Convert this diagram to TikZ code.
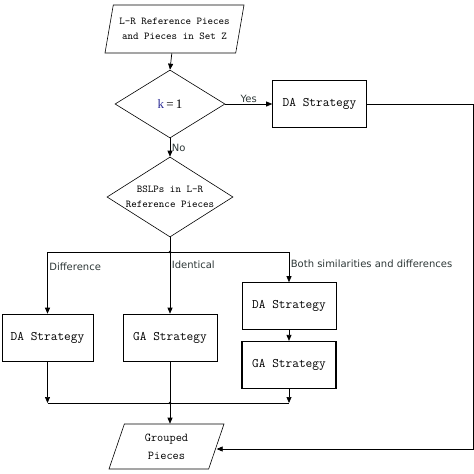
\documentclass[tikz,border=0pt]{standalone}
\usepackage{fontspec}
\newfontfamily\lblfont{DejaVu Sans}
\newfontfamily\kfont{Liberation Serif}
\usetikzlibrary{shapes.geometric,arrows.meta}
\definecolor{kblue}{RGB}{45,45,150}
\definecolor{lblgray}{RGB}{45,55,55}
\begin{document}
\begin{tikzpicture}[x=1pt, y=-1pt,
  line width=0.7pt,
  flow/.style={-{Triangle[length=6pt,width=5pt]}},
  box/.style={draw, line width=0.6pt, minimum width=94pt, minimum height=47pt,
    inner sep=0pt, font=\fontsize{13}{15}\selectfont\ttfamily},
  io/.style={draw, line width=0.6pt, trapezium, trapezium stretches body,
    inner sep=0pt, align=center, font=\fontsize{10.5}{15}\selectfont\ttfamily},
  test/.style={draw, line width=0.6pt, diamond, inner sep=0pt, align=center},
  lbl/.style={font=\fontsize{10}{12}\selectfont\lblfont, text=lblgray, inner sep=1.5pt}]
  \useasboundingbox (0,0) rectangle (474,474);
  % input, test and first strategy
  \node[io, trapezium left angle=69, trapezium right angle=111,
    minimum width=139pt, minimum height=48pt] (src) at (174.5,29)
    {L-R Reference Pieces\\and Pieces in Set Z};
  \node[test, minimum width=110pt, minimum height=68pt] (k1) at (170,104)
    {\kfont\fontsize{13}{15}\selectfont{\color{kblue}k}\,=\,1};
  \node[box] (daY) at (319.5,104) {DA Strategy};
  \node[test, aspect=1.6, minimum width=126pt, minimum height=80pt,
    font=\fontsize{10.5}{15}\selectfont\ttfamily] (bslp) at (170,197)
    {BSLPs in L-R\\Reference Pieces};
  % three branches
  \coordinate (split) at (170,252);
  \node[box, minimum width=91pt] (daL) at (47.5,337.5) {DA Strategy};
  \node[box] (gaM) at (170,337.5) {GA Strategy};
  \node[box] (daR) at (289,306) {DA Strategy};
  \node[box, line width=1.2pt] (gaR) at (289,365) {GA Strategy};
  \coordinate (join) at (170,403);
  \coordinate (joinL) at (daL.south |- join);
  \coordinate (joinR) at (gaR.south |- join);
  % output
  \node[io, trapezium left angle=59, trapezium right angle=121,
    minimum width=115pt, minimum height=45pt,
    font=\fontsize{12}{18}\selectfont\ttfamily] (grp) at (166.5,446.5)
    {Grouped\\Pieces};
  \coordinate (edgeT) at (473.5,104);
  \coordinate (edgeB) at (473.5,449);
  % connectors
  \draw[flow] (src) -- (k1.north);
  \draw[flow] (k1.east) -- node[lbl, above, pos=0.5] {Yes} (daY.west);
  \draw[flow] (k1.south) -- node[lbl, right, pos=0.5] {No} (bslp.north);
  \draw (bslp.south) -- (split);
  \draw[flow] (split) -| node[lbl, right, pos=0.62] {Difference} (daL.north);
  \draw[flow] (split) -- node[lbl, right, pos=0.2] {Identical} (gaM.north);
  \draw[flow] (split) -| node[lbl, right, pos=0.69] {Both similarities and differences} (daR.north);
  \draw[flow] (daR) -- (gaR);
  \draw[flow] (daL.south) -- (joinL);
  \draw[flow] (gaR.south) -- (joinR);
  \draw (joinL) -- (joinR);
  \draw (gaM.south) -- (join);
  \draw[flow] (join) -- (join |- grp.north);
  \draw[flow] (daY.east) -- (edgeT) -- (edgeB) -- (grp.east |- edgeB);
  \fill (split) circle (1.3pt);
  \fill (join) circle (1.3pt);
\end{tikzpicture}
\end{document}
